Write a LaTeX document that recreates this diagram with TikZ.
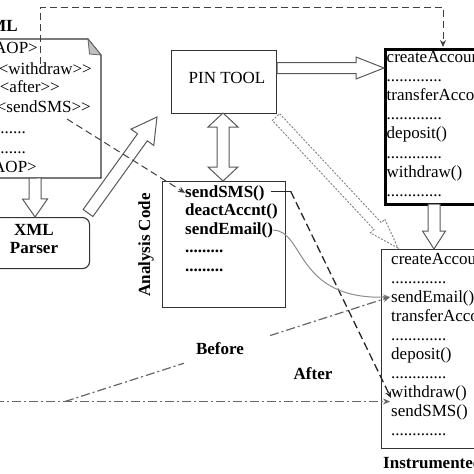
\documentclass[tikz,border=0pt]{standalone}
\usepackage{fontspec}
\setmainfont{Liberation Serif}
\usetikzlibrary{calc,arrows.meta}
\newcommand{\fs}{\fontsize{17}{19}\selectfont}
\newcommand{\dnine}{.........}
\newcommand{\dthirteen}{.............}
\newcommand{\dlt}{<\kern0pt<}
\newcommand{\dgt}{>\kern0pt>}
% hollow single arrow: style, start, end, shaft half width, head half width, head length
\newcommand{\hollowarr}[6]{%
  \coordinate (haS) at (#2); \coordinate (haE) at (#3);
  \coordinate (haH) at ($(haE)!#6!(haS)$);
  \draw[#1] ($(haS)!#4!90:(haE)$) -- ($(haH)!#4!-90:(haS)$) -- ($(haH)!#5!-90:(haS)$) -- (haE)
    -- ($(haH)!#5!90:(haS)$) -- ($(haH)!#4!90:(haS)$) -- ($(haS)!#4!-90:(haE)$) -- cycle;}
% hollow double arrow
\newcommand{\hollowdarr}[6]{%
  \coordinate (haS) at (#2); \coordinate (haE) at (#3);
  \coordinate (haH) at ($(haE)!#6!(haS)$);
  \coordinate (haG) at ($(haS)!#6!(haE)$);
  \draw[#1] (haS) -- ($(haG)!#5!90:(haE)$) -- ($(haG)!#4!90:(haE)$) -- ($(haH)!#4!-90:(haS)$)
    -- ($(haH)!#5!-90:(haS)$) -- (haE) -- ($(haH)!#5!90:(haS)$) -- ($(haH)!#4!90:(haS)$)
    -- ($(haG)!#4!-90:(haE)$) -- ($(haG)!#5!-90:(haE)$) -- cycle;}
\begin{document}
\begin{tikzpicture}[x=1pt,y=-1pt,
  every node/.style={font=\fs, inner sep=0pt},
  txt/.style={anchor=base west},
  rtxt/.style={anchor=base east},
  btxt/.style={anchor=base west, font=\fs\bfseries},
  lbl/.style={font=\fs\bfseries},
  boxline/.style={draw=black!80, line width=1.1pt},
  hollow/.style={draw=black!65, line width=1pt, fill=white, line join=miter},
  dotarrow/.style={draw=black!50, line width=0.9pt, dash pattern=on 2pt off 1.5pt},
  dashconn/.style={draw=black!75, line width=1pt, dash pattern=on 7pt off 4pt},
  dashconnB/.style={draw=black!85, line width=1.3pt, dash pattern=on 8pt off 4pt},
  dashdot/.style={draw=black!60, line width=1.2pt, dash pattern=on 9pt off 3pt on 2pt off 3pt},
  curveconn/.style={draw=black!45, line width=1pt},
  tip/.style={-{Stealth[length=7pt,width=6pt]}}
]
\useasboundingbox (0,0) rectangle (474,474);
\clip (0,0) rectangle (474,474);

% ---------- XML document ----------
\node[lbl, anchor=base east] (xmltitle) at (18,31) {XML};
\draw[boxline] (-30,39) -- (88,39) -- (101,55) -- (101,178) -- (-30,178) -- cycle;
\draw[draw=black!60, fill=black!25, line width=0.8pt] (88,39) -- (89.5,54) -- (101,55) -- cycle;
\node[rtxt] (docAOP) at (38,53) {<AOP>};
\node[rtxt] (docW) at (92,74) {\dlt withdraw\dgt};
\node[rtxt] (docA) at (60,92) {\dlt after\dgt};
\node[rtxt] (docS) at (91,112) {\dlt sendSMS\dgt};
\node[rtxt] (docD1) at (26,133) {......};
\node[rtxt] (docD2) at (26,153) {......};
\node[rtxt] (docE) at (37,172) {</AOP>};
\coordinate (docB) at (35,178);
\coordinate (docT) at (40.5,64);
\coordinate (docX) at (67,119);

% ---------- XML Parser ----------
\node[boxline, rounded corners=7pt, minimum width=109pt, minimum height=51pt, anchor=north west] (parser) at (-20,217) {};
\node[lbl, align=center, font=\fontsize{17}{18}\selectfont\bfseries] (parsertxt) at (34,239) {XML\\Parser};

% ---------- PIN TOOL ----------
\node[boxline, minimum width=105pt, minimum height=63pt, anchor=north west] (pin) at (171,50) {};
\node (pintxt) at (227,78) {PIN TOOL};

% ---------- Analysis Code ----------
\node[boxline, minimum width=123pt, minimum height=126pt, anchor=north west] (anal) at (162,181) {};
\foreach \t [count=\i from 0] in {sendSMS(),deactAccnt(),sendEmail(),\dnine,\dnine}
  \node[btxt] (an\i) at (185,197+18.6*\i) {\t};
\node[lbl, rotate=90] (analtxt) at (146,245) {Analysis Code};

% ---------- top-right box ----------
\node[draw=black, line width=2.6pt, minimum width=137pt, minimum height=155pt, anchor=north west] (tbox) at (384,48) {};
\foreach \t [count=\i from 0] in {createAccount(),\dthirteen,transferAccount(),\dthirteen,deposit(),\dthirteen,withdraw(),\dthirteen}
  \node[txt] (tb\i) at (386.5,62+19.2*\i) {\t};

% ---------- Instrumented box ----------
\node[boxline, minimum width=139pt, minimum height=199pt, anchor=north west] (ibox) at (381,249) {};
\foreach \t [count=\i from 0] in {createAccount(),\dthirteen,sendEmail(),transferAccount(),\dthirteen,deposit(),\dthirteen,withdraw(),sendSMS(),\dthirteen}
  \node[txt] (in\i) at (391,264+19.1*\i) {\t};
\node[btxt] (ilabel) at (383,468) {Instrumented Code};

% ---------- hollow arrows ----------
\hollowarr{hollow}{docB}{parser.north}{6pt}{12.5pt}{18pt}
\coordinate (pA) at (88,213);
\coordinate (pB) at (157,117);
\hollowarr{hollow}{pA}{pB}{6pt}{14pt}{25pt}
\coordinate (pinR) at (pin.east |- 0,68);
\coordinate (tbL) at (tbox.west |- 0,68);
\hollowarr{hollow}{pinR}{tbL}{5.5pt}{11pt}{28pt}
\coordinate (pinB) at (223,113);
\coordinate (anT) at (223,181);
\hollowdarr{hollow}{pinB}{anT}{6pt}{15pt}{14pt}
\coordinate (tbB) at (434,204);
\coordinate (ibT) at (434,249);
\hollowarr{hollow}{tbB}{ibT}{6pt}{11.5pt}{18pt}
\coordinate (pinC) at (276,117);
\coordinate (ibC) at (398,248);
\hollowarr{dotarrow}{pinC}{ibC}{5pt}{10pt}{30pt}

% ---------- connectors ----------
\coordinate (tbTop) at (443,47);
\draw[dashconn, tip] (docT) -- ++(0,-57) -| (tbTop);
\draw[dashconn, tip] (docX) -- (an0.west);
\coordinate (smsA) at ($(an0.east)+(6,-1.5)$);
\coordinate (smsB) at ($(smsA)+(20,0)$);
\coordinate (wdT) at (391,398);
\draw[draw=black!85, line width=1.2pt] (smsA) -- (smsB);
\draw[dashconnB, tip] (smsB) -- (wdT);
\coordinate (emT) at (390,297);
\draw[curveconn, tip] (an2.east) .. controls (305,231) and (295,300) .. (emT);
\coordinate (hleft) at (-5,401.5);
\coordinate (bfork) at (65,401.5);
\coordinate (wdH) at (390,401.5);
\draw[dashdot, tip] (hleft) -- (wdH);
\draw[dashdot] (bfork) -- ($(bfork)!0.366!(emT)$);
\draw[dashdot, tip] ($(bfork)!0.631!(emT)$) -- (emT);
\node[lbl] (before) at (220,349) {Before};
\node[lbl] (after) at (313,374) {After};
\end{tikzpicture}
\end{document}
